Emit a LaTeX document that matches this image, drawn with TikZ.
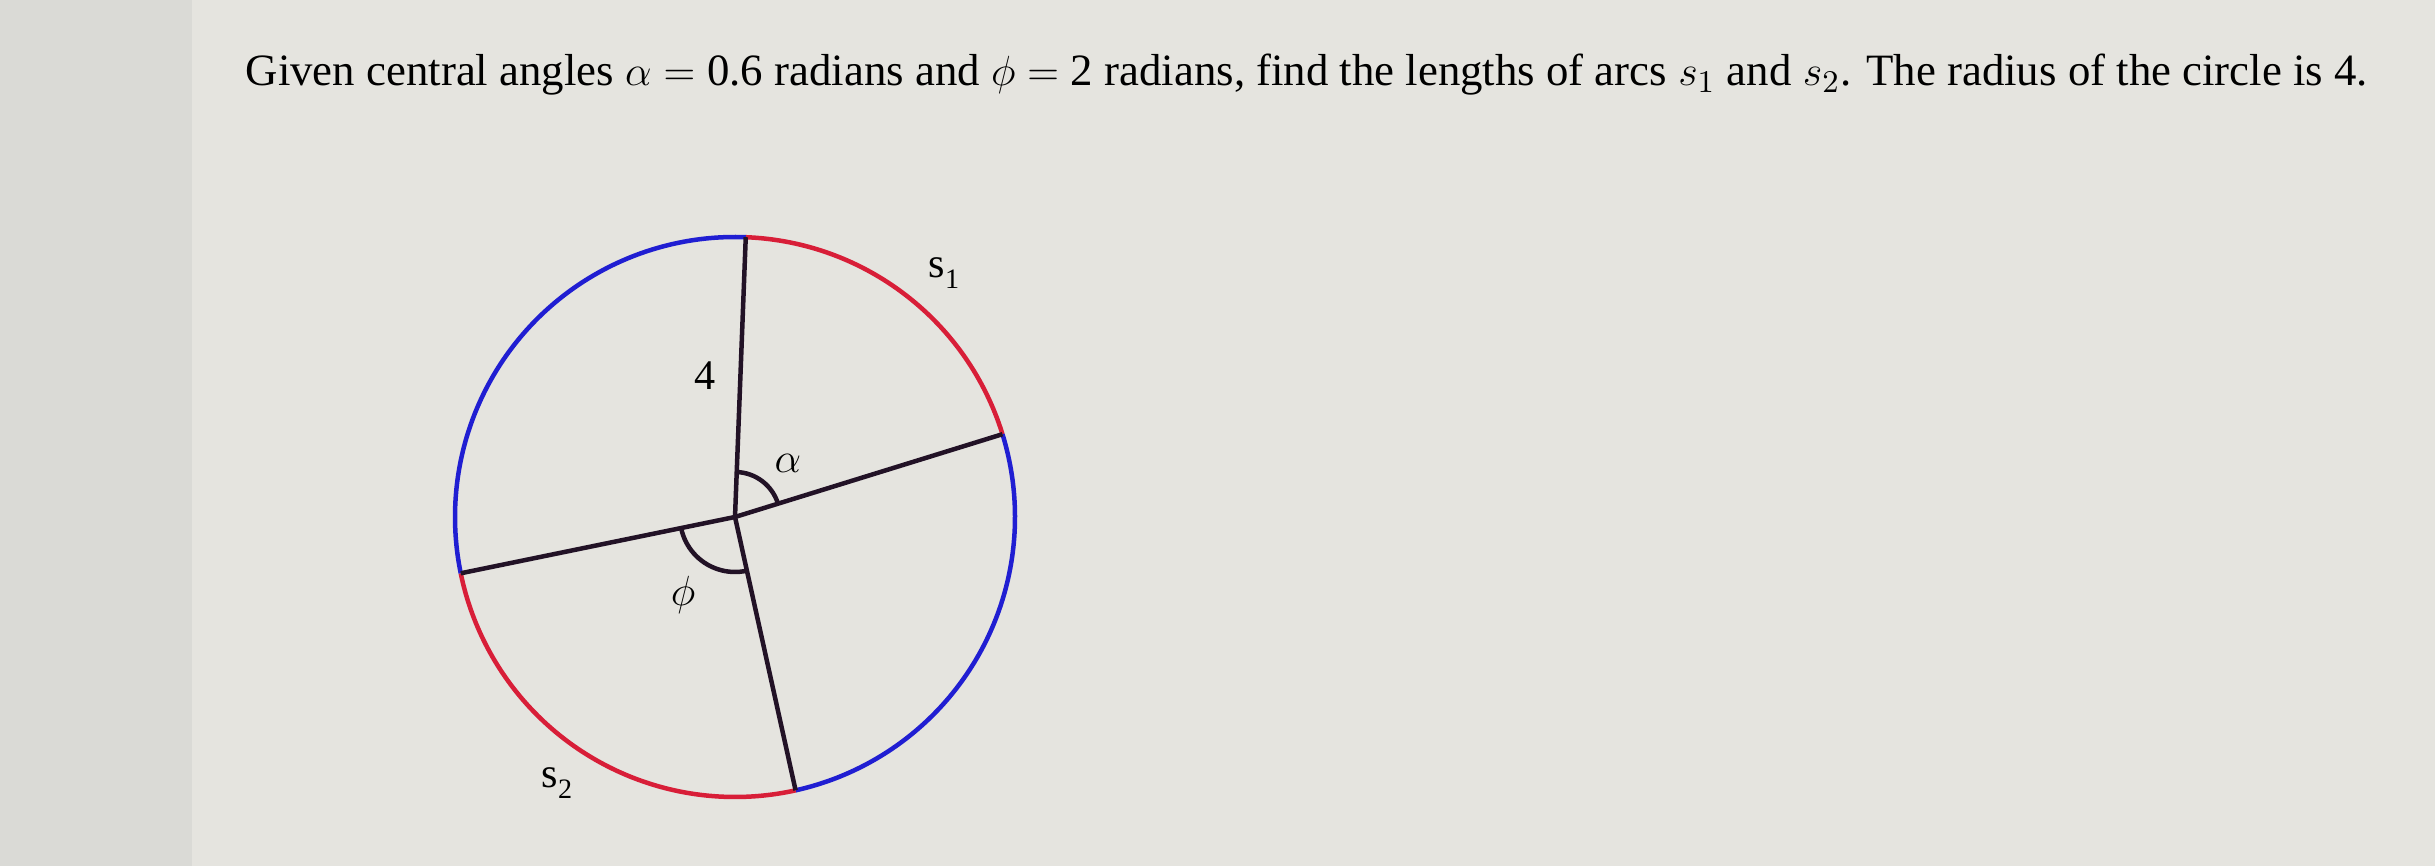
\documentclass[tikz,border=0pt]{standalone}
\usepackage{amsmath}
\usepackage{fontspec}
\setmainfont{Liberation Serif}
\usetikzlibrary{calc}
\definecolor{paper}{RGB}{229,228,223}
\definecolor{margin}{RGB}{218,218,214}
\definecolor{ink}{RGB}{34,18,38}
\definecolor{arcred}{RGB}{216,30,56}
\definecolor{arcblue}{RGB}{32,30,210}
\newcommand{\arcname}[1]{s\raisebox{-0.6ex}{\footnotesize #1}}

\begin{document}
\begin{tikzpicture}[x=0.1mm,y=0.1mm]
\tikzstyle{every node}+=[inner sep=0pt]
\tikzstyle{spoke}=[ink, line width=0.45mm]
\tikzstyle{rim}=[line width=0.45mm]
\tikzstyle{lbl}=[font=\fontsize{12}{14}\selectfont]
\fill [paper] (0,0) rectangle (2435,866);
\fill [margin] (0,0) rectangle (192,866);
\useasboundingbox (0,0) rectangle (2435,866);
\node [anchor=base west, font=\fontsize{12.75}{15}\selectfont] (task) at (245,780) {Given central angles $\alpha = \text{0.6}$ radians and $\phi = \text{2}$ radians, find the lengths of arcs $s_1$ and $s_2$. The radius of the circle is 4.};
\coordinate (O) at (735,349);
\coordinate (T) at ($(O)+(87.8:280)$);
\coordinate (R) at ($(O)+(17.2:280)$);
\coordinate (B) at ($(O)+(-77.5:280)$);
\coordinate (L) at ($(O)+(191.6:280)$);
\draw [rim, arcred] (T) arc [start angle=87.8, end angle=17.2, radius=28mm];
\draw [rim, arcblue] (R) arc [start angle=17.2, end angle=-77.5, radius=28mm];
\draw [rim, arcred] (B) arc [start angle=-77.5, end angle=-168.4, radius=28mm];
\draw [rim, arcblue] (L) arc [start angle=191.6, end angle=87.8, radius=28mm];
\draw [spoke] (O) -- (T);
\draw [spoke] (O) -- (R);
\draw [spoke] (O) -- (B);
\draw [spoke] (O) -- (L);
\draw [spoke] ($(O)+(87.8:45)$) arc [start angle=87.8, end angle=17.2, radius=4.5mm];
\draw [spoke] ($(O)+(191.6:55)$) arc [start angle=191.6, end angle=282.5, radius=5.5mm];
\node [lbl] (four) at (705,490) {4};
\node [lbl] (alpha) at (788,403) {$\alpha$};
\node [lbl] (phi) at (683,271) {$\phi$};
\node [lbl] (s1) at (944,593) {\arcname{1}};
\node [lbl] (s2) at (557,83) {\arcname{2}};
\end{tikzpicture}
\end{document}
